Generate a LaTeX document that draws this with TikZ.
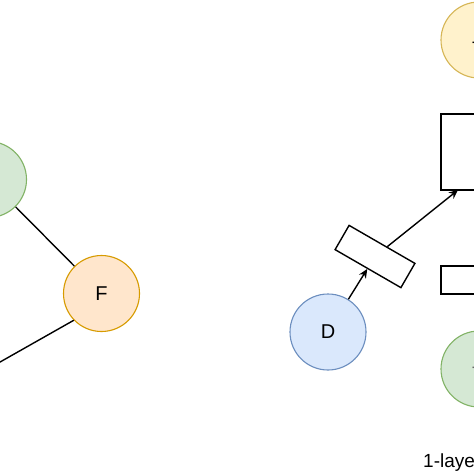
\documentclass[tikz,border=0pt]{standalone}
\usepackage{fontspec}
\setmainfont{Liberation Sans}
\usetikzlibrary{arrows.meta}
\definecolor{gfill}{HTML}{D5E8D4}\definecolor{gline}{HTML}{82B366}
\definecolor{ofill}{HTML}{FFE6CC}\definecolor{oline}{HTML}{D79B00}
\definecolor{bfill}{HTML}{DAE8FC}\definecolor{bline}{HTML}{6C8EBF}
\definecolor{yfill}{HTML}{FFF2CC}\definecolor{yline}{HTML}{D6B656}
\tikzset{
  circ/.style={circle, minimum size=76pt, inner sep=0pt, line width=1.1pt, font=\fontsize{20}{23}\selectfont},
  green/.style={circ, fill=gfill, draw=gline},
  orange/.style={circ, fill=ofill, draw=oline},
  blue/.style={circ, fill=bfill, draw=bline},
  yellow/.style={circ, fill=yfill, draw=yline},
  box/.style={rectangle, draw=black, fill=white, line width=1.4pt, inner sep=0pt},
  conn/.style={line width=1.4pt, black},
  arr/.style={conn, -{Stealth[length=9pt,width=8pt]}},
  cut/.style={inner sep=0pt, font=\fontsize{20}{23}\selectfont},
}
\begin{document}
\begin{tikzpicture}[x=1pt,y=-1pt]
\useasboundingbox (0,0) rectangle (474,474);
\clip (0,0) rectangle (474,474);
\fill[white] (0,0) rectangle (474,474);
% left part
\node[green] (G1) at (-11.5,179.5) {};
\node[orange] (F) at (101.5,293.5) {F};
\coordinate (lo) at (-40,384.7);
\draw[conn] (G1) -- (F);
\draw[conn] (lo) -- (F.224);
% right part
\node[blue] (D) at (328,332) {D};
\node[box, minimum width=76pt, minimum height=28pt, rotate=-30] (R) at (375,256.5) {};
\node[yellow] (Y) at (479,40) {};
\node[cut, anchor=west] (Yt) at (471.5,44) {+};
\node[box, minimum width=76pt, minimum height=76pt] (S) at (479,152) {};
\node[box, minimum width=76pt, minimum height=28pt] (S2) at (479,280) {};
\node[green] (G2) at (479,369) {};
\node[cut, anchor=west, text=black!60] (Gt) at (471.5,369) {+};
\coordinate (t) at (458,190);
\draw[arr] (D) -- (R);
\draw[arr] (R) -- (t);
\node[anchor=base west, inner sep=0pt, font=\fontsize{19}{22}\selectfont] (cap) at (423,467) {1-layer};
\end{tikzpicture}
\end{document}
